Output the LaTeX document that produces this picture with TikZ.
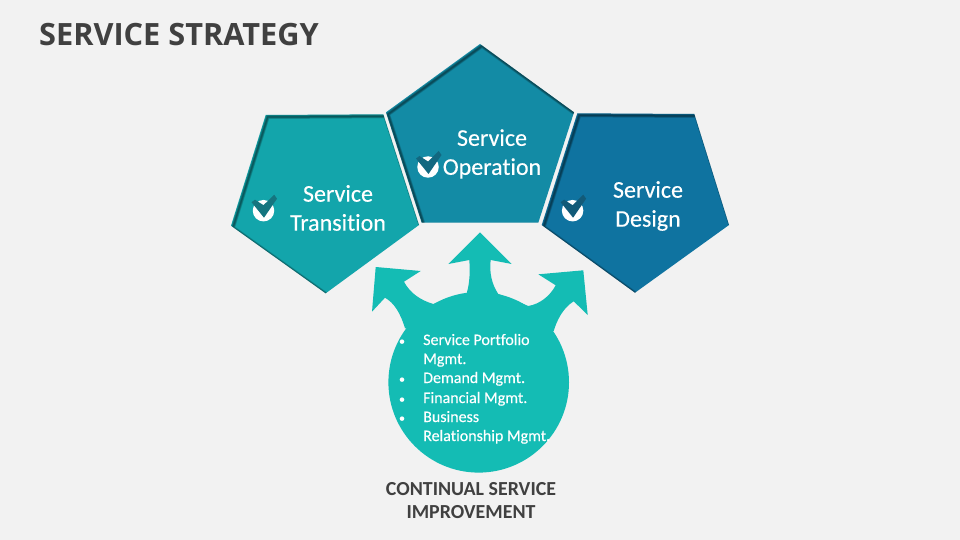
\documentclass[tikz,border=0pt]{standalone}
\usepackage{fontspec}
\setmainfont{Carlito}[Ligatures=NoCommon, UprightFeatures={FakeBold=0.25}]
\newfontfamily\titlefont{Open Sans}
\definecolor{pagebg}{HTML}{F2F2F2}
\definecolor{titlegray}{HTML}{404040}
\definecolor{transcol}{HTML}{13A5AB}
\definecolor{opercol}{HTML}{138BA5}
\definecolor{designcol}{HTML}{0F73A0}
\definecolor{blobcol}{HTML}{14BCB4}
\definecolor{transtick}{HTML}{15757F}
\definecolor{opertick}{HTML}{126880}
\definecolor{designtick}{HTML}{125A78}
\tikzset{
  pentlbl/.style ={text=white, align=center, font=\fontsize{24}{29}\selectfont},
  itemlbl/.style ={text=white, anchor=base west, inner sep=0pt, font=\fontsize{16}{18}\selectfont},
  dotlbl/.style  ={text=white, anchor=base, inner sep=0pt, font=\fontsize{12}{18}\selectfont},
  ticksym/.style ={circle, fill=white, minimum size=21.5pt, inner sep=0pt},
}
\begin{document}
\begin{tikzpicture}[x=1pt, y=-1pt]
        \fill[pagebg] (0,0) rectangle (960,540);
        \useasboundingbox (0,0) rectangle (960,540);
        \node[anchor=west, inner sep=0pt, text=titlegray, font=\titlefont\bfseries\fontsize{30.7}{36}\selectfont] (title) at (39,35) {SERVICE STRATEGY};
        % pentagons with inner shadow
        \foreach \pts/\col in {
            {(265.7,115) -- (383.3,114.3) -- (419,225) -- (325.7,293.3) -- (231,225.7)}/transcol,
            {(480,44) -- (574,112.3) -- (538.3,222.7) -- (421.7,222.7) -- (386,112.3)}/opercol,
            {(577.3,113.3) -- (694.3,114) -- (729,225) -- (635,292.7) -- (541.7,225)}/designcol} {
          \fill[\col] \pts -- cycle;
          \begin{scope}
            \clip \pts -- cycle;
            \foreach \w in {4,3,2,1}
              \draw[black, opacity=0.14, line width=\w pt, shift={(2,2)}] \pts -- cycle;
          \end{scope}
        }
        % tick marks
        \foreach \nm/\cx/\cy/\col in {t1/263.5/210.7/transtick, t2/428/167/opertick, t3/572.6/210.7/designtick} {
          \node[ticksym] (\nm) at (\cx,\cy) {};
          \fill[\col, shift={(\cx,\cy)}] (-12,-8.5) -- (-8.5,-11) -- (0,-5.5) -- (10.7,-16) -- (13.5,-12) -- (0.5,7) -- cycle;
        }
        \node[pentlbl] (trans) at (338,208) {Service\\Transition};
        \node[pentlbl] (oper) at (492,154) {Service\\Operation};
        \node[pentlbl] (design) at (648,206) {Service\\Design};
        % arrows and circle
        \node[circle, fill=blobcol, minimum size=180.6pt, inner sep=0pt] (blob) at (478.7,382.3) {};
        \fill[blobcol] (405,328.3) .. controls (400,312) and (394,303) .. (385,297.7) -- (372,311.7)
          -- (375.7,267) -- (420.7,271) -- (404,281.7) .. controls (410,293) and (420,300) .. (433.3,304)
          -- (466.7,293.3) .. controls (470,282) and (470,270) .. (469.3,260) -- (448.3,264)
          -- (480,232.3) -- (511.7,264) -- (490.7,260) .. controls (489,272) and (492,285) .. (498.3,294)
          -- (528.3,306) .. controls (540,304) and (550,296) .. (555.7,285.3) -- (538.3,274.3)
          -- (583.3,270.3) -- (587.7,315) -- (573.7,301.3) .. controls (563,308) and (557,320) .. (553.7,331) -- cycle;
        % list in the circle
        \foreach \nm/\yy/\txt in {i1/345/Service Portfolio, i2/364/Mgmt., i3/383/Demand Mgmt., i4/403/Financial Mgmt., i5/422/Business, i6/441/Relationship Mgmt.}
          \node[itemlbl] (\nm) at (423,\yy) {\txt};
        \foreach \nm/\yy in {d1/345, d3/383, d4/403, d5/422}
          \node[dotlbl] (\nm) at (402,\yy) {•};
        \node[align=center, text=titlegray, font=\bfseries\fontsize{19.9}{23}\selectfont] (csi) at (471,501) {CONTINUAL SERVICE\\IMPROVEMENT};
    \end{tikzpicture}
\end{document}
